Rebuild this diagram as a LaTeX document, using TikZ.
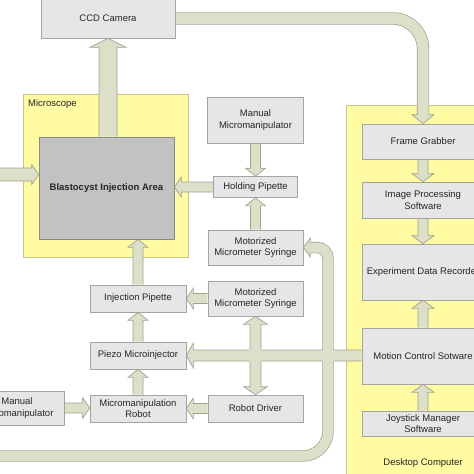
\documentclass[tikz,border=0pt]{standalone}
\usepackage{fontspec}
\setmainfont{Liberation Sans}
\usetikzlibrary{calc}
\definecolor{afill}{HTML}{DDE0C9}
\definecolor{aline}{HTML}{A0A28E}
\definecolor{bfill}{HTML}{E6E6E6}
\definecolor{bline}{HTML}{A4A4A4}
\definecolor{gfill}{HTML}{C2C2C2}
\definecolor{gline}{HTML}{8A8A8A}
\definecolor{yfill}{HTML}{FFFBA2}
\definecolor{yline}{HTML}{C9C38E}
\definecolor{tcol}{HTML}{262626}
\pgfdeclarelayer{back}
\pgfdeclarelayer{mid}
\pgfsetlayers{back,mid,main}
\tikzset{
  arrowfillst/.style={fill=afill},
  arrowlinest/.style={draw=aline, line width=0.7pt, line join=miter},
  curveband/.style={draw=aline, line width=0.7pt, double=afill},
  box/.style={draw=bline, fill=bfill, line width=0.7pt, inner sep=0pt, align=center},
  graybox/.style={draw=gline, fill=gfill, line width=0.7pt, inner sep=0pt, align=center},
  ybox/.style={draw=yline, fill=yfill, line width=0.7pt, inner sep=0pt},
  lbl/.style={inner sep=0pt}
}
% straight block arrow: start, tip, half shaft, half head, head length
\newcommand{\blkarrow}[5]{%
  \coordinate (ba-A) at (#1);
  \coordinate (ba-B) at (#2);
  \coordinate (ba-C) at ($(ba-B)!#5!(ba-A)$);
  \fill[arrowfillst] ($(ba-A)!#3!90:(ba-B)$) -- ($(ba-C)!#3!-90:(ba-A)$) -- ($(ba-C)!#4!-90:(ba-A)$) -- (ba-B) -- ($(ba-C)!#4!90:(ba-A)$) -- ($(ba-C)!#3!90:(ba-A)$) -- ($(ba-A)!#3!-90:(ba-B)$) -- cycle;
  \draw[arrowlinest] ($(ba-A)!#3!90:(ba-B)$) -- ($(ba-C)!#3!-90:(ba-A)$) -- ($(ba-C)!#4!-90:(ba-A)$) -- (ba-B) -- ($(ba-C)!#4!90:(ba-A)$) -- ($(ba-C)!#3!90:(ba-A)$) -- ($(ba-A)!#3!-90:(ba-B)$);
}
% double headed block arrow
\newcommand{\dblkarrow}[5]{%
  \coordinate (ba-A) at (#1);
  \coordinate (ba-B) at (#2);
  \coordinate (ba-CA) at ($(ba-A)!#5!(ba-B)$);
  \coordinate (ba-CB) at ($(ba-B)!#5!(ba-A)$);
  \filldraw[arrowfillst, arrowlinest] (ba-A) -- ($(ba-CA)!#4!90:(ba-B)$) -- ($(ba-CA)!#3!90:(ba-B)$) -- ($(ba-CB)!#3!-90:(ba-A)$) -- ($(ba-CB)!#4!-90:(ba-A)$) -- (ba-B) -- ($(ba-CB)!#4!90:(ba-A)$) -- ($(ba-CB)!#3!90:(ba-A)$) -- ($(ba-CA)!#3!-90:(ba-B)$) -- ($(ba-CA)!#4!-90:(ba-B)$) -- cycle;
}
\begin{document}
\begin{tikzpicture}[x=1pt, y=-1pt, font=\fontsize{9.5pt}{11.5pt}\selectfont, text=tcol]
\clip (0,0) rectangle (474,474);
\path[use as bounding box] (0,0) rectangle (474,474);

% containers
\begin{pgfonlayer}{back}
  \node[ybox, minimum width=165pt, minimum height=163pt] (micro) at (105.5,175.5) {};
  \node[ybox, minimum width=144pt, minimum height=385pt] (desk) at (418,297.5) {};
\end{pgfonlayer}
\node[lbl, anchor=west] (microlbl) at (28,104) {Microscope};
\node[lbl] (desklbl) at (423,463) {Desktop Computer};

% boxes
\node[box, minimum width=134pt, minimum height=39pt] (ccd) at (108,18.5) {CCD Camera};
\node[graybox, minimum width=135pt, minimum height=102pt] (bia) at (106.5,188) {\textbf{Blastocyst Injection Area}};
\node[box, minimum width=96pt, minimum height=46pt] (mmtop) at (255.5,120) {Manual\\Micromanipulator};
\node[box, minimum width=84pt, minimum height=21pt] (hp) at (255.5,187) {Holding Pipette};
\node[box, minimum width=95pt, minimum height=35pt] (syr1) at (255.5,247.5) {Motorized\\Micrometer Syringe};
\node[box, minimum width=95pt, minimum height=35pt] (syr2) at (255.5,298.5) {Motorized\\Micrometer Syringe};
\node[box, minimum width=96pt, minimum height=27pt] (ip) at (138,298.5) {Injection Pipette};
\node[box, minimum width=96pt, minimum height=27pt] (pz) at (138,355.5) {Piezo Microinjector};
\node[box, minimum width=96pt, minimum height=27pt] (mr) at (138,408.5) {Micromanipulation\\Robot};
\node[box, minimum width=94pt, minimum height=34pt] (mml) at (17,408) {Manual\\Micromanipulator};
\node[box, minimum width=95pt, minimum height=27pt] (rd) at (255.5,408.5) {Robot Driver};
\node[box, minimum width=122pt, minimum height=35pt] (fg) at (423,141.5) {Frame Grabber};
\node[box, minimum width=122pt, minimum height=36pt] (ips) at (423,200) {Image Processing\\Software};
\node[box, minimum width=122pt, minimum height=56pt] (edr) at (423,272) {Experiment Data Recorder};
\node[box, minimum width=122pt, minimum height=56pt] (mcs) at (423,356) {Motion Control Sotware};
\node[box, minimum width=122pt, minimum height=25pt] (jms) at (423,423.5) {Joystick Manager\\Software};

\coordinate (leftin) at (0,174.5);
\coordinate (loopL) at (0,456);
\coordinate (loopX) at (328,0);
\coordinate (c1) at (loopL -| loopX);
\coordinate (c2) at (loopX |- syr1.east);

\begin{pgfonlayer}{mid}
  % CCD camera to frame grabber
  \draw[curveband, double distance=11pt, rounded corners=30pt] (ccd.east) -- (ccd.east -| fg.north) -- ($(fg.north)+(0,-10)$);
  \blkarrow{$(fg.north)+(0,-13)$}{fg.north}{5.85pt}{11pt}{9pt}
  % loop from the left to syringe 1
  \draw[curveband, double distance=10pt] (loopL) -- ($(c1)+(-25,0)$) .. controls ($(c1)+(-11.2,0)$) and ($(c1)+(0,-11.2)$) .. ($(c1)+(0,-25)$) -- ($(c2)+(0,11)$) .. controls ($(c2)+(0,4.9)$) and ($(c2)+(-4.9,0)$) .. ($(c2)+(-11,0)$) -- ($(syr1.east)+(10,0)$);
  \blkarrow{$(syr1.east)+(12.5,0)$}{syr1.east}{5.35pt}{9.5pt}{7pt}
  % bus from motion control to piezo
  \blkarrow{mcs.west |- pz.east}{pz.east}{5.5pt}{12.5pt}{7pt}
  \dblkarrow{syr2.south}{rd.north}{5.5pt}{12pt}{8pt}
  % junction patches
  \coordinate (J1) at (syr2.south |- pz.east);
  \fill[afill] ($(J1)+(-6.6,-5.1)$) rectangle ($(J1)+(6.6,5.1)$);
  \fill[afill] ($(J1)+(-5.1,-6.6)$) rectangle ($(J1)+(5.1,6.6)$);
  \coordinate (J2) at (loopX |- pz.east);
  \fill[afill] ($(J2)+(-6.5,-5.1)$) rectangle ($(J2)+(6.5,5.1)$);
  \fill[afill] ($(J2)+(-4.95,-6.6)$) rectangle ($(J2)+(4.95,6.6)$);
  % microscope arrows
  \blkarrow{ccd.south |- bia.north}{ccd.south}{9pt}{18pt}{9pt}
  \blkarrow{leftin}{bia.west |- leftin}{6.5pt}{10pt}{7pt}
  \blkarrow{hp.west}{bia.east |- hp.west}{5pt}{10pt}{7pt}
  \blkarrow{mmtop.south}{hp.north}{5pt}{10pt}{8pt}
  \blkarrow{syr1.north}{hp.south}{5pt}{10pt}{8pt}
  \blkarrow{syr2.west}{ip.east}{5pt}{10.5pt}{7pt}
  \blkarrow{ip.north}{bia.south -| ip.north}{5pt}{10pt}{8pt}
  \blkarrow{pz.north}{ip.south}{5pt}{10pt}{8pt}
  \blkarrow{mr.north}{pz.south}{5pt}{10pt}{8pt}
  \blkarrow{mml.east}{mr.west |- mml.east}{5pt}{10.5pt}{7pt}
  \blkarrow{rd.west}{mr.east}{5pt}{10.5pt}{7pt}
  % desktop arrows
  \blkarrow{fg.south}{ips.north}{5pt}{11pt}{8pt}
  \blkarrow{ips.south}{edr.north}{5pt}{11pt}{8pt}
  \blkarrow{mcs.north}{edr.south}{5pt}{11pt}{8pt}
  \blkarrow{jms.north}{mcs.south}{5pt}{11pt}{8pt}
\end{pgfonlayer}
\end{tikzpicture}
\end{document}
